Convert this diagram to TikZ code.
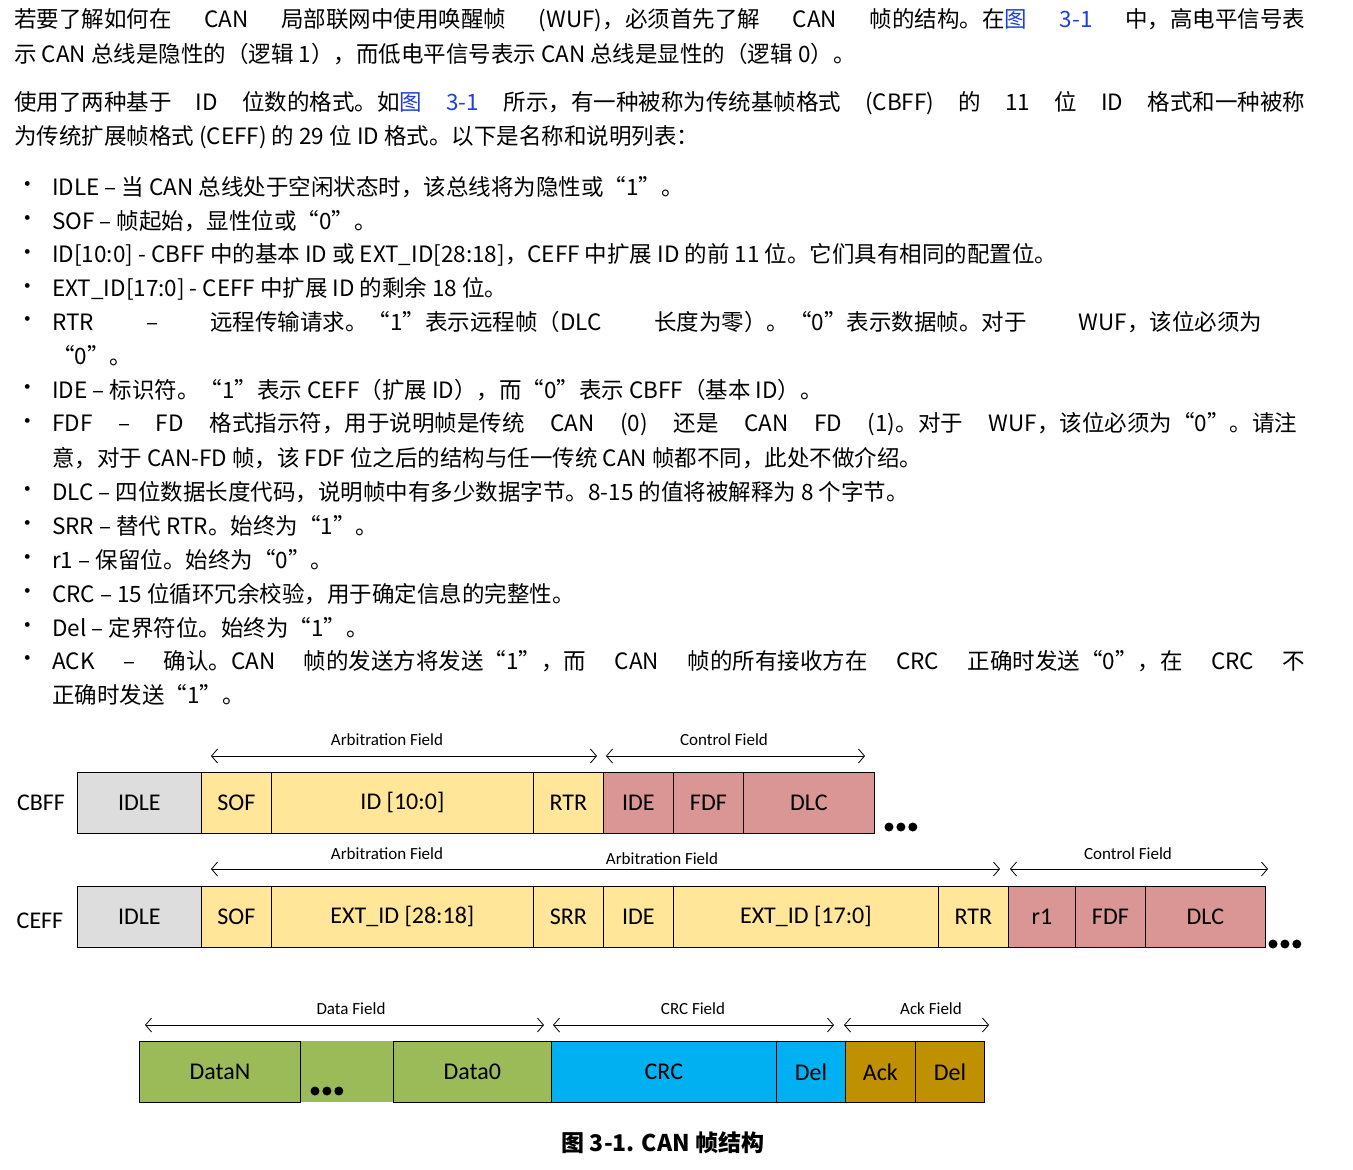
\documentclass[tikz,border=0pt]{standalone}
\usepackage{fontspec}
\setmainfont{Noto Sans CJK SC}
\newfontfamily\carl{Carlito}
\usetikzlibrary{arrows.meta}
\XeTeXlinebreaklocale "zh"
\XeTeXlinebreakskip=0pt plus 2pt
\definecolor{gy}{HTML}{DDDDDD}
\definecolor{yl}{HTML}{FFE699}
\definecolor{rd}{HTML}{D99694}
\definecolor{gn}{HTML}{9BBB59}
\definecolor{bl}{HTML}{00B0F0}
\definecolor{gd}{HTML}{BF9000}
\definecolor{lk}{HTML}{1F3FE0}
\newcommand{\lnk}[1]{\textcolor{lk}{#1}}
\newcommand{\fl}[2]{\makebox[#1pt][s]{#2}}
\tikzset{
 tl/.style={anchor=west,inner sep=0pt,font=\fontsize{22.5}{24}\selectfont},
 fld/.style={draw=black,line width=0.8pt,inner sep=0pt,font=\carl\fontsize{24}{26}\selectfont},
 flab/.style={font=\carl\fontsize{17}{19}\selectfont,inner sep=0pt},
 rng/.style={{Straight Barb[open,length=6pt,width=14pt]}-{Straight Barb[open,length=6pt,width=14pt]},line width=0.8pt},
 dot/.style={circle,fill=black,inner sep=0pt,minimum size=9pt}
}
\newcommand{\fbx}[6]{\node[fld,fill=#5,minimum width=#3-#2,minimum height=61,anchor=north west] (#6) at (#2,#4) {#1};}
\newcommand{\threedots}[2]{\node[dot] (#1a) at (#2) {}; \node[dot,right=2.5pt of #1a] (#1b) {}; \node[dot,right=2.5pt of #1b] (#1c) {};}
\usetikzlibrary{positioning}
\begin{document}
\begin{tikzpicture}[x=1pt,y=-1pt]
\useasboundingbox (0,0) rectangle (1353,1170);
\node[tl] (t1) at (14,20) {\fl{1291}{若要了解如何在 CAN 局部联网中使用唤醒帧 (WUF)，必须首先了解 CAN 帧的结构。在\lnk{图 3-1} 中，高电平信号表}};
\node[tl] (t2) at (14,54) {示 CAN 总线是隐性的（逻辑 1），而低电平信号表示 CAN 总线是显性的（逻辑 0）。};
\node[tl] (t3) at (14,103) {\fl{1291}{使用了两种基于 ID 位数的格式。如\lnk{图 3-1} 所示，有一种被称为传统基帧格式 (CBFF) 的 11 位 ID 格式和一种被称}};
\node[tl] (t4) at (14,137) {为传统扩展帧格式 (CEFF) 的 29 位 ID 格式。以下是名称和说明列表：};
\foreach \y/\t [count=\i] in {
187/{IDLE – 当 CAN 总线处于空闲状态时，该总线将为隐性或“1”。},
221/{SOF – 帧起始，显性位或“0”。},
255/{ID[10:0] - CBFF 中的基本 ID 或 EXT\_ID[28:18]，CEFF 中扩展 ID 的前 11 位。它们具有相同的配置位。},
289/{EXT\_ID[17:0] - CEFF 中扩展 ID 的剩余 18 位。},
322/{\fl{1210}{RTR – 远程传输请求。“1”表示远程帧（DLC 长度为零）。“0”表示数据帧。对于 WUF，该位必须为}},
390/{IDE – 标识符。“1”表示 CEFF（扩展 ID），而“0”表示 CBFF（基本 ID）。},
424/{\fl{1245}{FDF – FD 格式指示符，用于说明帧是传统 CAN (0) 还是 CAN FD (1)。对于 WUF，该位必须为“0”。请注}},
492/{DLC – 四位数据长度代码，说明帧中有多少数据字节。8-15 的值将被解释为 8 个字节。},
526/{SRR – 替代 RTR。始终为“1”。},
560/{r1 – 保留位。始终为“0”。},
594/{CRC – 15 位循环冗余校验，用于确定信息的完整性。},
628/{Del – 定界符位。始终为“1”。},
661/{\fl{1253}{ACK – 确认。CAN 帧的发送方将发送“1”，而 CAN 帧的所有接收方在 CRC 正确时发送“0”，在 CRC 不}}}
{\node[tl] (b\i) at (52,\y) {\t}; \node[tl] (d\i) at (16,\y) {•};}
\node[tl] (c1) at (52,356) {“0”。};
\node[tl] (c2) at (52,458) {意，对于 CAN-FD 帧，该 FDF 位之后的结构与任一传统 CAN 帧都不同，此处不做介绍。};
\node[tl] (c3) at (52,695) {正确时发送“1”。};
% CBFF
\node[font=\carl\fontsize{24}{26}\selectfont] (cb) at (41,803) {CBFF};
\fbx{IDLE}{77}{201}{772}{gy}{a1}
\fbx{SOF}{201}{271}{772}{yl}{a2}
\fbx{ID [10:0]}{271}{533}{772}{yl}{a3}
\fbx{RTR}{533}{603}{772}{yl}{a4}
\fbx{IDE}{603}{673}{772}{rd}{a5}
\fbx{FDF}{673}{743}{772}{rd}{a6}
\fbx{DLC}{743}{874}{772}{rd}{a7}
\threedots{ad}{{889,827}}
\coordinate (p1) at (211,756); \coordinate (p2) at (597,756);
\coordinate (p3) at (606,756); \coordinate (p4) at (865,756);
\draw[rng] (p1) -- (p2); \draw[rng] (p3) -- (p4);
\node[flab] (l1) at (387,740) {Arbitration Field};
\node[flab] (l2) at (724,740) {Control Field};
% CEFF
\node[font=\carl\fontsize{24}{26}\selectfont] (ce) at (40,921) {CEFF};
\fbx{IDLE}{77}{201}{886}{gy}{e1}
\fbx{SOF}{201}{271}{886}{yl}{e2}
\fbx{EXT\_ID [28:18]}{271}{533}{886}{yl}{e3}
\fbx{SRR}{533}{603}{886}{yl}{e4}
\fbx{IDE}{603}{673}{886}{yl}{e5}
\fbx{EXT\_ID [17:0]}{673}{938}{886}{yl}{e6}
\fbx{RTR}{938}{1008}{886}{yl}{e7}
\fbx{r1}{1008}{1075}{886}{rd}{e8}
\fbx{FDF}{1075}{1145}{886}{rd}{e9}
\fbx{DLC}{1145}{1265}{886}{rd}{e10}
\threedots{ed}{{1273,944}}
\coordinate (q1) at (211,869); \coordinate (q2) at (1000,869);
\coordinate (q3) at (1010,869); \coordinate (q4) at (1268,869);
\draw[rng] (q1) -- (q2); \draw[rng] (q3) -- (q4);
\node[flab] (m1) at (387,854) {Arbitration Field};
\node[flab] (m2) at (662,859) {Arbitration Field};
\node[flab] (m3) at (1128,854) {Control Field};
% data
\node[fill=gn,minimum width=93,minimum height=61,anchor=north west,inner sep=0pt] (g0) at (300,1041) {};
\fbx{DataN}{139}{300}{1041}{gn}{g1}
\fbx{Data0}{393}{551}{1041}{gn}{g2}
\fbx{CRC}{551}{776}{1041}{bl}{g3}
\fbx{Del}{776}{845}{1041}{bl}{g4}
\fbx{Ack}{845}{915}{1041}{gd}{g5}
\fbx{Del}{915}{984}{1041}{gd}{g6}
\threedots{gd}{{315,1091}}
\coordinate (r1) at (145,1025); \coordinate (r2) at (544,1025);
\coordinate (r3) at (553,1025); \coordinate (r4) at (834,1025);
\coordinate (r5) at (844,1025); \coordinate (r6) at (989,1025);
\draw[rng] (r1) -- (r2); \draw[rng] (r3) -- (r4); \draw[rng] (r5) -- (r6);
\node[flab] (n1) at (351,1009) {Data Field};
\node[flab] (n2) at (693,1009) {CRC Field};
\node[flab] (n3) at (931,1009) {Ack Field};
\node[font=\fontsize{23}{26}\selectfont\bfseries] (cap) at (663,1143) {图 3-1. CAN 帧结构};
\end{tikzpicture}
\end{document}
